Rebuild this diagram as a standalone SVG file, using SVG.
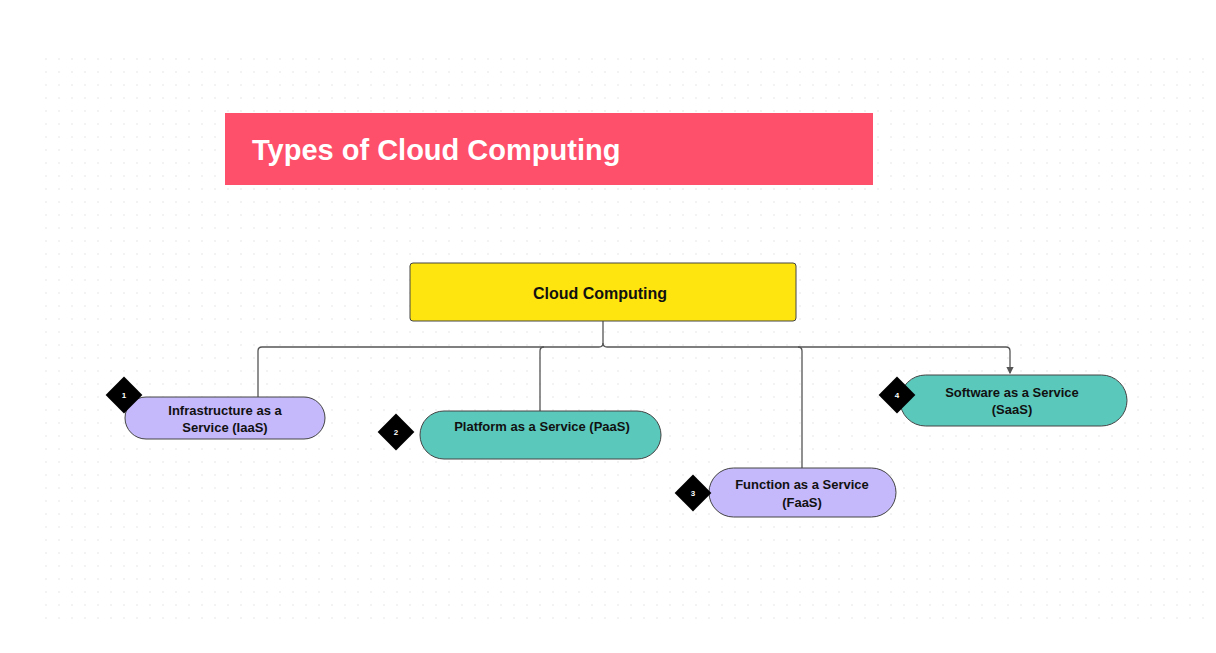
<svg xmlns="http://www.w3.org/2000/svg" width="1216" height="653" viewBox="0 0 1216 653">
<defs>
<pattern id="dots" x="45" y="58" width="13" height="13" patternUnits="userSpaceOnUse"><circle cx="1" cy="1" r="0.8" fill="#e3e3e3"/></pattern>
<marker id="ah" markerWidth="6" markerHeight="6" refX="5" refY="3" orient="auto"><path d="M0,0 L6,3 L0,6 z" fill="#555"/></marker>
<style>
.t{font-family:"Liberation Sans",Arial,sans-serif;font-weight:bold;fill:#111;text-anchor:middle}
.pill{stroke:#444;stroke-width:1}
.dm{fill:#000}
.num{font-family:"Liberation Sans",Arial,sans-serif;font-weight:bold;fill:#fff;font-size:8px;text-anchor:middle}
.c{fill:none;stroke:#555;stroke-width:1.3}
</style>
</defs>
<rect width="1216" height="653" fill="#fff"/>
<rect x="40" y="55" width="1165" height="570" fill="url(#dots)"/>
<g id="title"><rect x="225" y="113" width="648" height="72" fill="#fe506b"/>
<text x="252" y="160" font-family="'Liberation Sans',Arial,sans-serif" font-weight="bold" font-size="29" fill="#fff">Types of Cloud Computing</text></g>
<g id="connectors">
<path class="c" d="M603,321 V343 Q603,347 599,347 H262 Q258,347 258,351 V397"/>
<path class="c" d="M603,343 Q603,347 607,347 H1006 Q1010,347 1010,351 V373" marker-end="url(#ah)"/>
<path class="c" d="M544,347 Q540,347 540,351 V411"/>
<path class="c" d="M798,347 Q802,347 802,351 V468"/>
</g>
<g id="root"><rect x="410" y="263" width="386" height="58" rx="3" fill="#ffe50f" stroke="#444"/>
<text class="t" x="600" y="299" font-size="16">Cloud Computing</text></g>
<g id="iaas"><rect class="pill" x="125" y="397" width="200" height="42" rx="21" fill="#c5b8fb"/>
<text class="t" x="225" y="415" font-size="13">Infrastructure as a</text><text class="t" x="225" y="432" font-size="13">Service (IaaS)</text>
<rect class="dm" x="111" y="382" width="26" height="26" transform="rotate(45 124 395)"/><text class="num" x="124" y="398">1</text></g>
<g id="paas"><rect class="pill" x="420" y="411" width="241" height="48" rx="24" fill="#5bc8bc"/>
<text class="t" x="542" y="431" font-size="13">Platform as a Service (PaaS)</text>
<rect class="dm" x="383" y="419" width="26" height="26" transform="rotate(45 396 432)"/><text class="num" x="396" y="435">2</text></g>
<g id="faas"><rect class="pill" x="709" y="468" width="187" height="49" rx="24.5" fill="#c5b8fb"/>
<text class="t" x="802" y="489" font-size="13">Function as a Service</text><text class="t" x="802" y="507" font-size="13">(FaaS)</text>
<rect class="dm" x="680" y="480" width="26" height="26" transform="rotate(45 693 493)"/><text class="num" x="693" y="496">3</text></g>
<g id="saas"><rect class="pill" x="900" y="375" width="227" height="51" rx="25.5" fill="#5bc8bc"/>
<text class="t" x="1012" y="397" font-size="13">Software as a Service</text><text class="t" x="1012" y="414" font-size="13">(SaaS)</text>
<rect class="dm" x="884" y="382" width="26" height="26" transform="rotate(45 897 395)"/><text class="num" x="897" y="398">4</text></g>
</svg>
